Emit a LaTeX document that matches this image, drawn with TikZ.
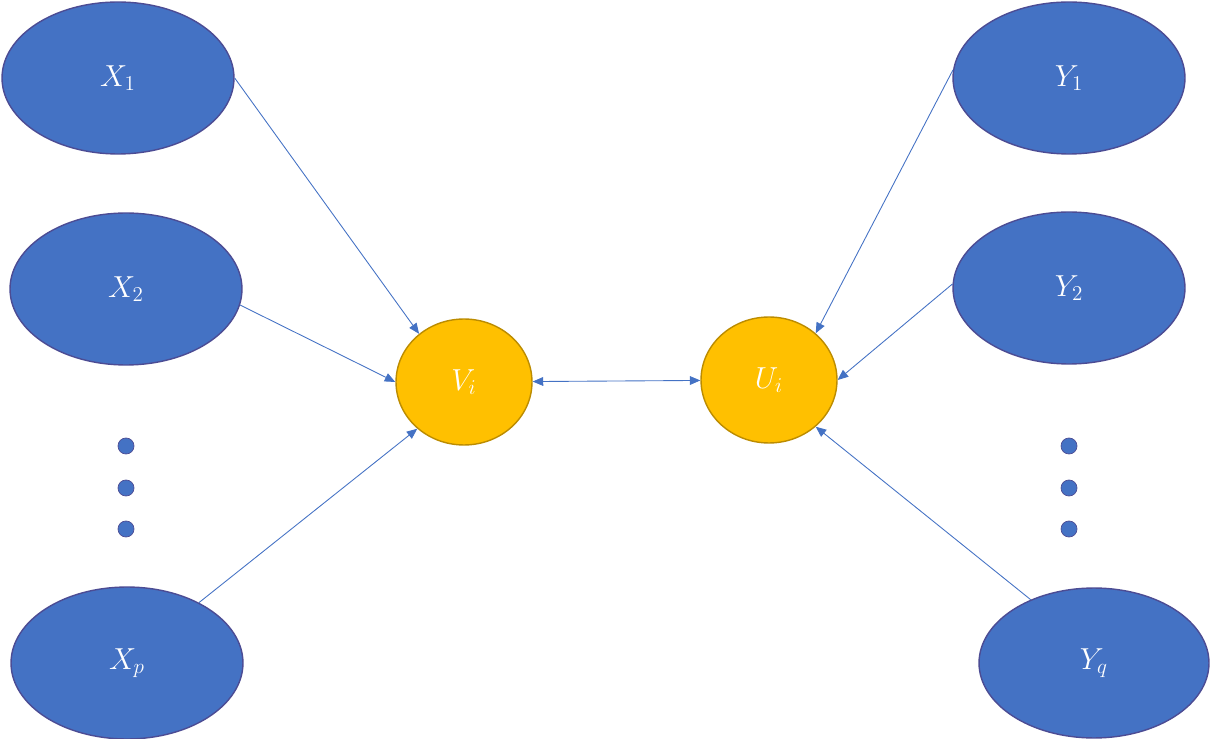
\documentclass[tikz,border=0pt]{standalone}
\usetikzlibrary{shapes.geometric,arrows.meta}
\begin{document}
\begin{tikzpicture}[x=0.02cm,y=-0.02cm,
  big/.style={ellipse,draw=blue!40!black!70,fill=bl,line width=0.8pt,minimum width=4.64cm,minimum height=3.04cm,text=white,font=\fontsize{17}{20}\selectfont},
  small/.style={ellipse,draw=yb,fill=yl,line width=0.8pt,minimum width=2.72cm,minimum height=2.52cm,text=white,font=\fontsize{17}{20}\selectfont},
  dot/.style={circle,draw=blue!40!black!70,fill=bl,minimum size=0.32cm,inner sep=0pt},
  conn/.style={draw=bl,line width=0.5pt,-{Triangle[length=6pt,width=5pt]}}]
\definecolor{bl}{HTML}{4472C4}
\definecolor{yl}{HTML}{FFC000}
\definecolor{yb}{HTML}{BC8C00}
\useasboundingbox (0,0) rectangle (1210,739);
\node[big] (X1) at (118,78) {$X_1$};
\node[big] (X2) at (126,289) {$X_2$};
\node[big] (Xp) at (127,663) {$X_p$};
\node[big] (Y1) at (1069,78) {$Y_1$};
\node[big] (Y2) at (1069,288) {$Y_2$};
\node[big,minimum width=4.6cm,minimum height=3.0cm] (Yq) at (1094,663) {$Y_q$};
\node[small] (V) at (464,382) {$V_i$};
\node[small] (U) at (769,380) {$U_i$};
\foreach \y [count=\i] in {446,488,529}{
  \node[dot] (dl\i) at (126,\y) {};
  \node[dot] (dr\i) at (1069,\y) {};
}
\draw[conn] (X1.0) -- (V.133);
\draw[conn] (X2.-8) -- (V.180);
\draw[conn] (Xp.40) -- (V.225);
\draw[conn,{Triangle[length=6pt,width=5pt]}-{Triangle[length=6pt,width=5pt]}] (V) -- (U);
\draw[conn] (Y1.176) -- (U.45);
\draw[conn] (Y2.178) -- (U.0);
\draw[conn] (Yq.135) -- (U.-45);
\end{tikzpicture}
\end{document}
